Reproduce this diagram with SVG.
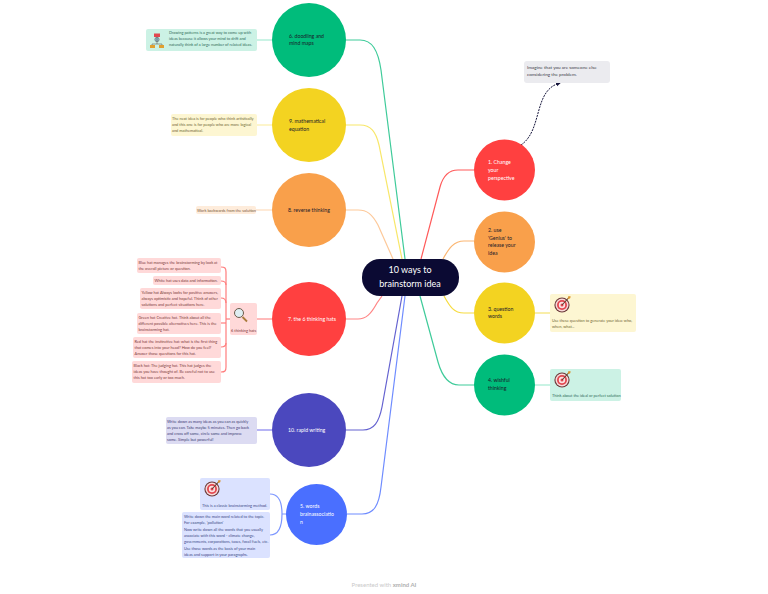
<svg xmlns="http://www.w3.org/2000/svg" width="768" height="594" viewBox="0 0 768 594">
<style>
text{font-family:"Lato","Noto Sans",sans-serif}
.l{font-size:5.2px;fill:#1a1a2a}
.w{font-size:5.2px;fill:#fff}
.s{font-size:3.9px}
.g{fill:#2f6b58}.y{fill:#6f6632}.o{fill:#7a5a3c}.r{fill:#7c3a3a}.i{fill:#3e3d75}.b{fill:#3c4a86}.k{fill:#3c3c48}
.c{fill:none;stroke-width:1.2}
</style>
<defs>
<marker id="ah" markerWidth="6" markerHeight="6" refX="4" refY="2.5" orient="auto" markerUnits="userSpaceOnUse"><path d="M0 0L5 2.5L0 5z" fill="#14133a"/></marker>
<g id="target">
<circle r="7.6" fill="#6b3a3a"/><circle r="6.5" fill="#f9d9d9"/><circle r="5" fill="#e2474f"/><circle r="3.2" fill="#fbe3e3"/><circle r="1.5" fill="#e2474f"/>
<path d="M0 0L6.5 -7" stroke="#5b4030" stroke-width="1.1"/><path d="M5.5 -6L6.5 -9L8.8 -8.5L8 -6.5z" fill="#d9942f"/>
</g>
</defs>
<rect width="768" height="594" fill="#fff"/>
<g id="connectors">
<path class="c" stroke="#3fcb9a" d="M405 259L381 70C378 50 372 40 360 40L346 40"/>
<path class="c" stroke="#f8e76a" d="M402 259L379 145C376 132 371 125 360 125L346 125"/>
<path class="c" stroke="#fdc99a" d="M393 259L378 225C372 214 367 210 358 210L346 210"/>
<path class="c" stroke="#ff8585" d="M382 296L377 303C371 314 366 319 358 319L346 319"/>
<path class="c" stroke="#6462d0" d="M402 296L382 407C379 422 374 430 363 430L346 430"/>
<path class="c" stroke="#6f8cff" d="M405 296L381 487C379 505 374 514 362 514L347 514"/>
<path class="c" stroke="#ff5a5a" d="M421 259L440 187C443 176 449 170 458 170L474 170"/>
<path class="c" stroke="#fbb672" d="M443 259C449 248 454 241 464 241L474 241"/>
<path class="c" stroke="#f6dc40" d="M444 296C450 307 454 313 464 313L474 313"/>
<path class="c" stroke="#3fcb9a" d="M420 296L438 362C442 376 448 385 459 385L474 385"/>
<path class="c" stroke="#a6ebd3" d="M257 40H272"/>
<path class="c" stroke="#fbefa8" d="M257 125H272"/>
<path class="c" stroke="#fddcbc" d="M256 210H272"/>
<path class="c" stroke="#ff8c8c" d="M257 319H272"/>
<path class="c" stroke="#8583ee" d="M257 430H272"/>
<path class="c" stroke="#f6e371" d="M535 313H550"/>
<path class="c" stroke="#a6ebd3" d="M535 385H550"/>
<g stroke="#ff7d7d" class="c">
<path d="M230 319H226"/>
<path d="M221 267C225 267 226 268 226 272V367C226 371 225 372 221 372"/>
<path d="M221 281C224 281 226 282 226 285"/>
<path d="M221 298C224 298 226 300 226 303"/>
<path d="M221 323H226"/>
<path d="M221 347C224 347 226 346 226 343"/>
</g>
<path class="c" stroke="#7d97ff" d="M270 494C278 494 282 500 282 514C282 528 278 535 270 535M282 514H286"/>
<path fill="none" stroke="#14133a" stroke-width="1" stroke-dasharray="2 1" marker-end="url(#ah)" d="M521 145C543 130 533 90 560 83"/>
</g>
<g id="center"><rect x="362" y="259" width="97" height="37" rx="18" fill="#0b0a33"/>
<text x="410" y="273" text-anchor="middle" font-size="9" fill="#fff">10 ways to</text><text x="410" y="287" text-anchor="middle" font-size="9" fill="#fff">brainstorm idea</text></g>
<g id="n1"><circle cx="504.500" cy="170" r="30.500" fill="#ff4040"/><text class="w"><tspan x="488" y="164">1. Change</tspan><tspan x="488" y="172">your</tspan><tspan x="488" y="180">perspective</tspan></text></g>
<g id="n1note"><rect x="524" y="61" width="86" height="22" rx="3" fill="#ebebef"/><text class="k" font-size="4.600"><tspan x="527" y="69">Imagine that you are someone else</tspan><tspan x="527" y="76">considering the problem.</tspan></text></g>
<g id="n2"><circle cx="504.500" cy="242" r="30.500" fill="#f9a04b"/><text class="l"><tspan x="488" y="232">2. use</tspan><tspan x="488" y="239.500">'Genius' to</tspan><tspan x="488" y="247">release your</tspan><tspan x="488" y="254.500">idea</tspan></text></g>
<g id="n3"><circle cx="504.500" cy="313" r="30.500" fill="#f3d321"/><text class="l"><tspan x="488" y="310.500">3. question</tspan><tspan x="488" y="318">words</tspan></text></g>
<g id="n3note"><rect x="550" y="294" width="86" height="38" rx="2" fill="#fdf6d2"/><use href="#target" x="562" y="305"/><text class="s y"><tspan x="552" y="322">Use these question to generate your idea: who,</tspan><tspan x="552" y="328">when, what...</tspan></text></g>
<g id="n4"><circle cx="504.500" cy="385" r="30.500" fill="#00bc7b"/><text class="l"><tspan x="488" y="382">4. wishful</tspan><tspan x="488" y="390">thinking</tspan></text></g>
<g id="n4note"><rect x="550" y="369" width="71" height="32" rx="2" fill="#ccf2e5"/><use href="#target" x="562" y="380"/><text class="s g" x="552" y="397">Think about the ideal or perfect solution</text></g>
<g id="n5"><circle cx="316.500" cy="514.500" r="30.500" fill="#4a6fff"/><text class="w"><tspan x="300" y="508">5. words</tspan><tspan x="300" y="516">brainassociatio</tspan><tspan x="300" y="524">n</tspan></text></g>
<g id="n5a"><rect x="200" y="478" width="70" height="32" rx="2" fill="#dbe2ff"/><use href="#target" x="212" y="489"/><text class="s b" x="202" y="506.500">This is a classic brainstorming method.</text></g>
<g id="n5b"><rect x="182" y="512" width="88" height="46" rx="2" fill="#dbe2ff"/><text class="s b"><tspan x="184" y="517.500"> Write down the main word related to the topic.</tspan><tspan x="184" y="524">For example, 'pollution'</tspan><tspan x="184" y="530.500">Now write down all the words that you usually</tspan><tspan x="184" y="536.800">associate with this word - climate change,</tspan><tspan x="184" y="543">governments, corporations, taxes, fossil fuels, etc.</tspan><tspan x="184" y="549.500">Use those words as the basis of your main</tspan><tspan x="184" y="556">ideas and support in your paragraphs.</tspan></text></g>
<g id="n6"><circle cx="309" cy="40" r="37" fill="#00bc7b"/><text class="l"><tspan x="289" y="38">6. doodling and</tspan><tspan x="289" y="45">mind maps</tspan></text></g>
<g id="n6note"><rect x="146" y="29" width="111" height="22" rx="2" fill="#ccf2e5"/>
<rect x="154" y="33.500" width="6" height="3.500" fill="#e2474f"/><circle cx="157" cy="39.500" r="2.200" fill="#8fb8c8" stroke="#444" stroke-width=".4"/><path d="M157 37V44M152 44H162V45M152 44V45" fill="none" stroke="#444" stroke-width=".5"/><rect x="150" y="45" width="5" height="3" fill="#e0a030"/><rect x="159" y="45" width="5" height="3" fill="#e0a030"/>
<text class="s g"><tspan x="169" y="33.500">Drawing patterns is a great way to come up with</tspan><tspan x="169" y="39.500">ideas because it allows your mind to drift and</tspan><tspan x="169" y="46">naturally think of a large number of related ideas.</tspan></text></g>
<g id="n9"><circle cx="309" cy="125" r="37" fill="#f3d321"/><text class="l"><tspan x="289" y="123">9. mathematical</tspan><tspan x="289" y="131">equation</tspan></text></g>
<g id="n9note"><rect x="171" y="114" width="86" height="22" rx="2" fill="#fdf6d2"/><text class="s y"><tspan x="172" y="119.500">The next idea is for people who think artistically</tspan><tspan x="172" y="125.500">and this one is for people who are more logical</tspan><tspan x="172" y="132">and mathematical.</tspan></text></g>
<g id="n8"><circle cx="309" cy="210" r="37" fill="#f9a04b"/><text class="l" x="288" y="211.500">8. reverse thinking</text></g>
<g id="n8note"><rect x="196" y="206" width="60" height="8" rx="2" fill="#feecdb"/><text class="s o" x="197" y="211.500">Work backwards from the solution</text></g>
<g id="n7"><circle cx="309" cy="319" r="37" fill="#ff4040"/><text class="w" x="288" y="321">7. the 6 thinking hats</text></g>
<g id="hats"><rect x="230" y="303" width="27" height="32" rx="2" fill="#ffd9d9"/>
<circle cx="239" cy="313" r="4.500" fill="#dfeef2" stroke="#6b5a4a" stroke-width="1"/><path d="M242.500 317L247 321.500" stroke="#a97b3c" stroke-width="1.800"/>
<text class="s r" x="231" y="331.500">6 thinking hats</text></g>
<g id="hat1"><rect x="137" y="258" width="84" height="15" rx="2" fill="#ffd9d9"/><text class="s r"><tspan x="138.500" y="263.500">Blue hat manages the brainstorming by look at</tspan><tspan x="138.500" y="269.500">the overall picture or question.</tspan></text></g>
<g id="hat2"><rect x="153" y="276" width="68" height="9" rx="2" fill="#ffd9d9"/><text class="s r" x="154.500" y="281.500">White hat uses data and information.</text></g>
<g id="hat3"><rect x="140" y="288" width="81" height="21" rx="2" fill="#ffd9d9"/><text class="s r"><tspan x="141.500" y="293.500">Yellow hat Always looks for positive answers,</tspan><tspan x="141.500" y="299.500">always optimistic and hopeful. Think of other</tspan><tspan x="141.500" y="305.500">solutions and perfect situations here.</tspan></text></g>
<g id="hat4"><rect x="137" y="313" width="84" height="21" rx="2" fill="#ffd9d9"/><text class="s r"><tspan x="138.500" y="318.500">Green hat Creative hat. Think about all the</tspan><tspan x="138.500" y="324.500">different possible alternatives here. This is the</tspan><tspan x="138.500" y="330.500">brainstorming hat.</tspan></text></g>
<g id="hat5"><rect x="133" y="337" width="88" height="21" rx="2" fill="#ffd9d9"/><text class="s r"><tspan x="134.500" y="342.500">Red hat the instinctive hat: what is the first thing</tspan><tspan x="134.500" y="348.500">that comes into your head? How do you feel?</tspan><tspan x="134.500" y="354.500">Answer those questions for this hat.</tspan></text></g>
<g id="hat6"><rect x="132" y="361" width="89" height="22" rx="2" fill="#ffd9d9"/><text class="s r"><tspan x="133.500" y="366.500">Black hat: The judging hat. This hat judges the</tspan><tspan x="133.500" y="372.500">ideas you have thought of. Be careful not to use</tspan><tspan x="133.500" y="379">this hat too early or too much.</tspan></text></g>
<g id="n10"><circle cx="309" cy="430" r="37" fill="#4b48be"/><text class="w" x="288" y="431.500">10. rapid writing</text></g>
<g id="n10note"><rect x="166" y="417" width="91" height="27" rx="2" fill="#dcdbf2"/><text class="s i"><tspan x="167" y="422.500">Write down as many ideas as you can as quickly</tspan><tspan x="167" y="428.500">as you can. Take maybe 5 minutes. Then go back</tspan><tspan x="167" y="434.500">and cross off some, circle some and improve</tspan><tspan x="167" y="440.500">some. Simple but powerful!</tspan></text></g>
<text x="384" y="587" text-anchor="middle" font-size="6" fill="#c9c9c9">Presented with <tspan font-weight="700" fill="#b0b0b0">xmind AI</tspan></text>
</svg>
